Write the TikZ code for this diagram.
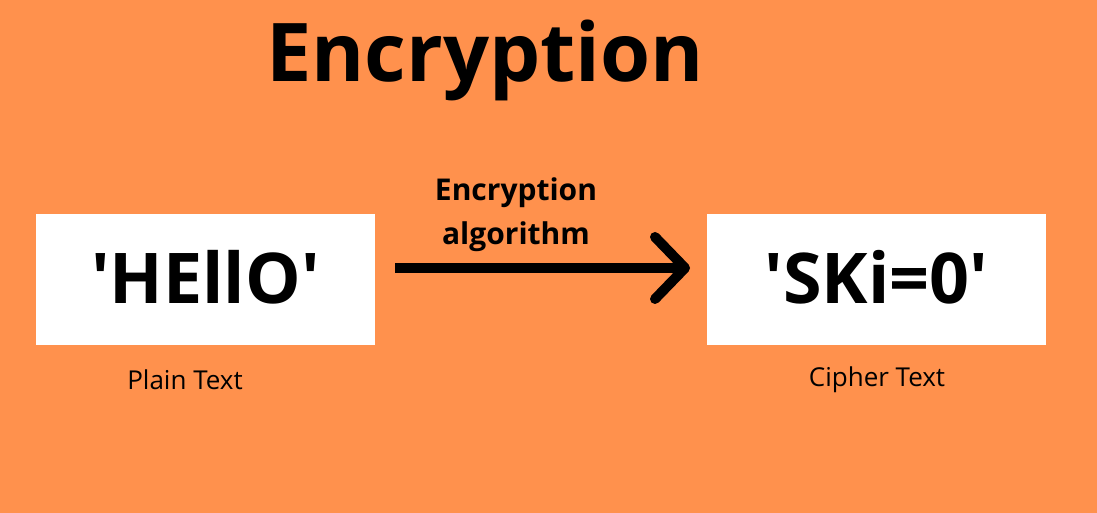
\documentclass[tikz,border=0pt]{standalone}
\usepackage{fontspec}
\setmainfont{Open Sans}
\usetikzlibrary{arrows.meta}
\definecolor{bg}{HTML}{FF914D}
\begin{document}
\begin{tikzpicture}[x=1pt,y=1pt,
  box/.style={fill=white,minimum width=339pt,minimum height=131pt,inner sep=0pt},
  big/.style={font=\fontsize{70}{80}\selectfont\bfseries},
  captext/.style={font=\fontsize{26}{30}\selectfont}]
\fill[bg] (0,0) rectangle (1097,513);
\useasboundingbox (0,0) rectangle (1097,513);
\node[font=\fontsize{81}{90}\selectfont\bfseries] (title) at (485,453) {Encryption};
\node[box] (pb) at (205.5,233.5) {};
\node[big] (pt) at (205.5,236) {\textquotesingle HEllO\textquotesingle};
\node[box] (cb) at (876.5,233.5) {};
\node[big] (ct) at (876.5,236) {\textquotesingle SKi=0\textquotesingle};
\node[captext] (pl) at (185,133) {Plain Text};
\node[captext] (cl) at (877,133) {Cipher Text};
\coordinate (a1) at (395,245);
\coordinate (a2) at (690,245);
\draw[line width=10pt,-{Straight Barb[length=30pt,width=62pt,line cap=round,line join=round]}] (a1) -- (a2);
\node[font=\fontsize{30}{44}\selectfont\bfseries,align=center] (lab) at (516,298) {Encryption\\algorithm};
\end{tikzpicture}
\end{document}
